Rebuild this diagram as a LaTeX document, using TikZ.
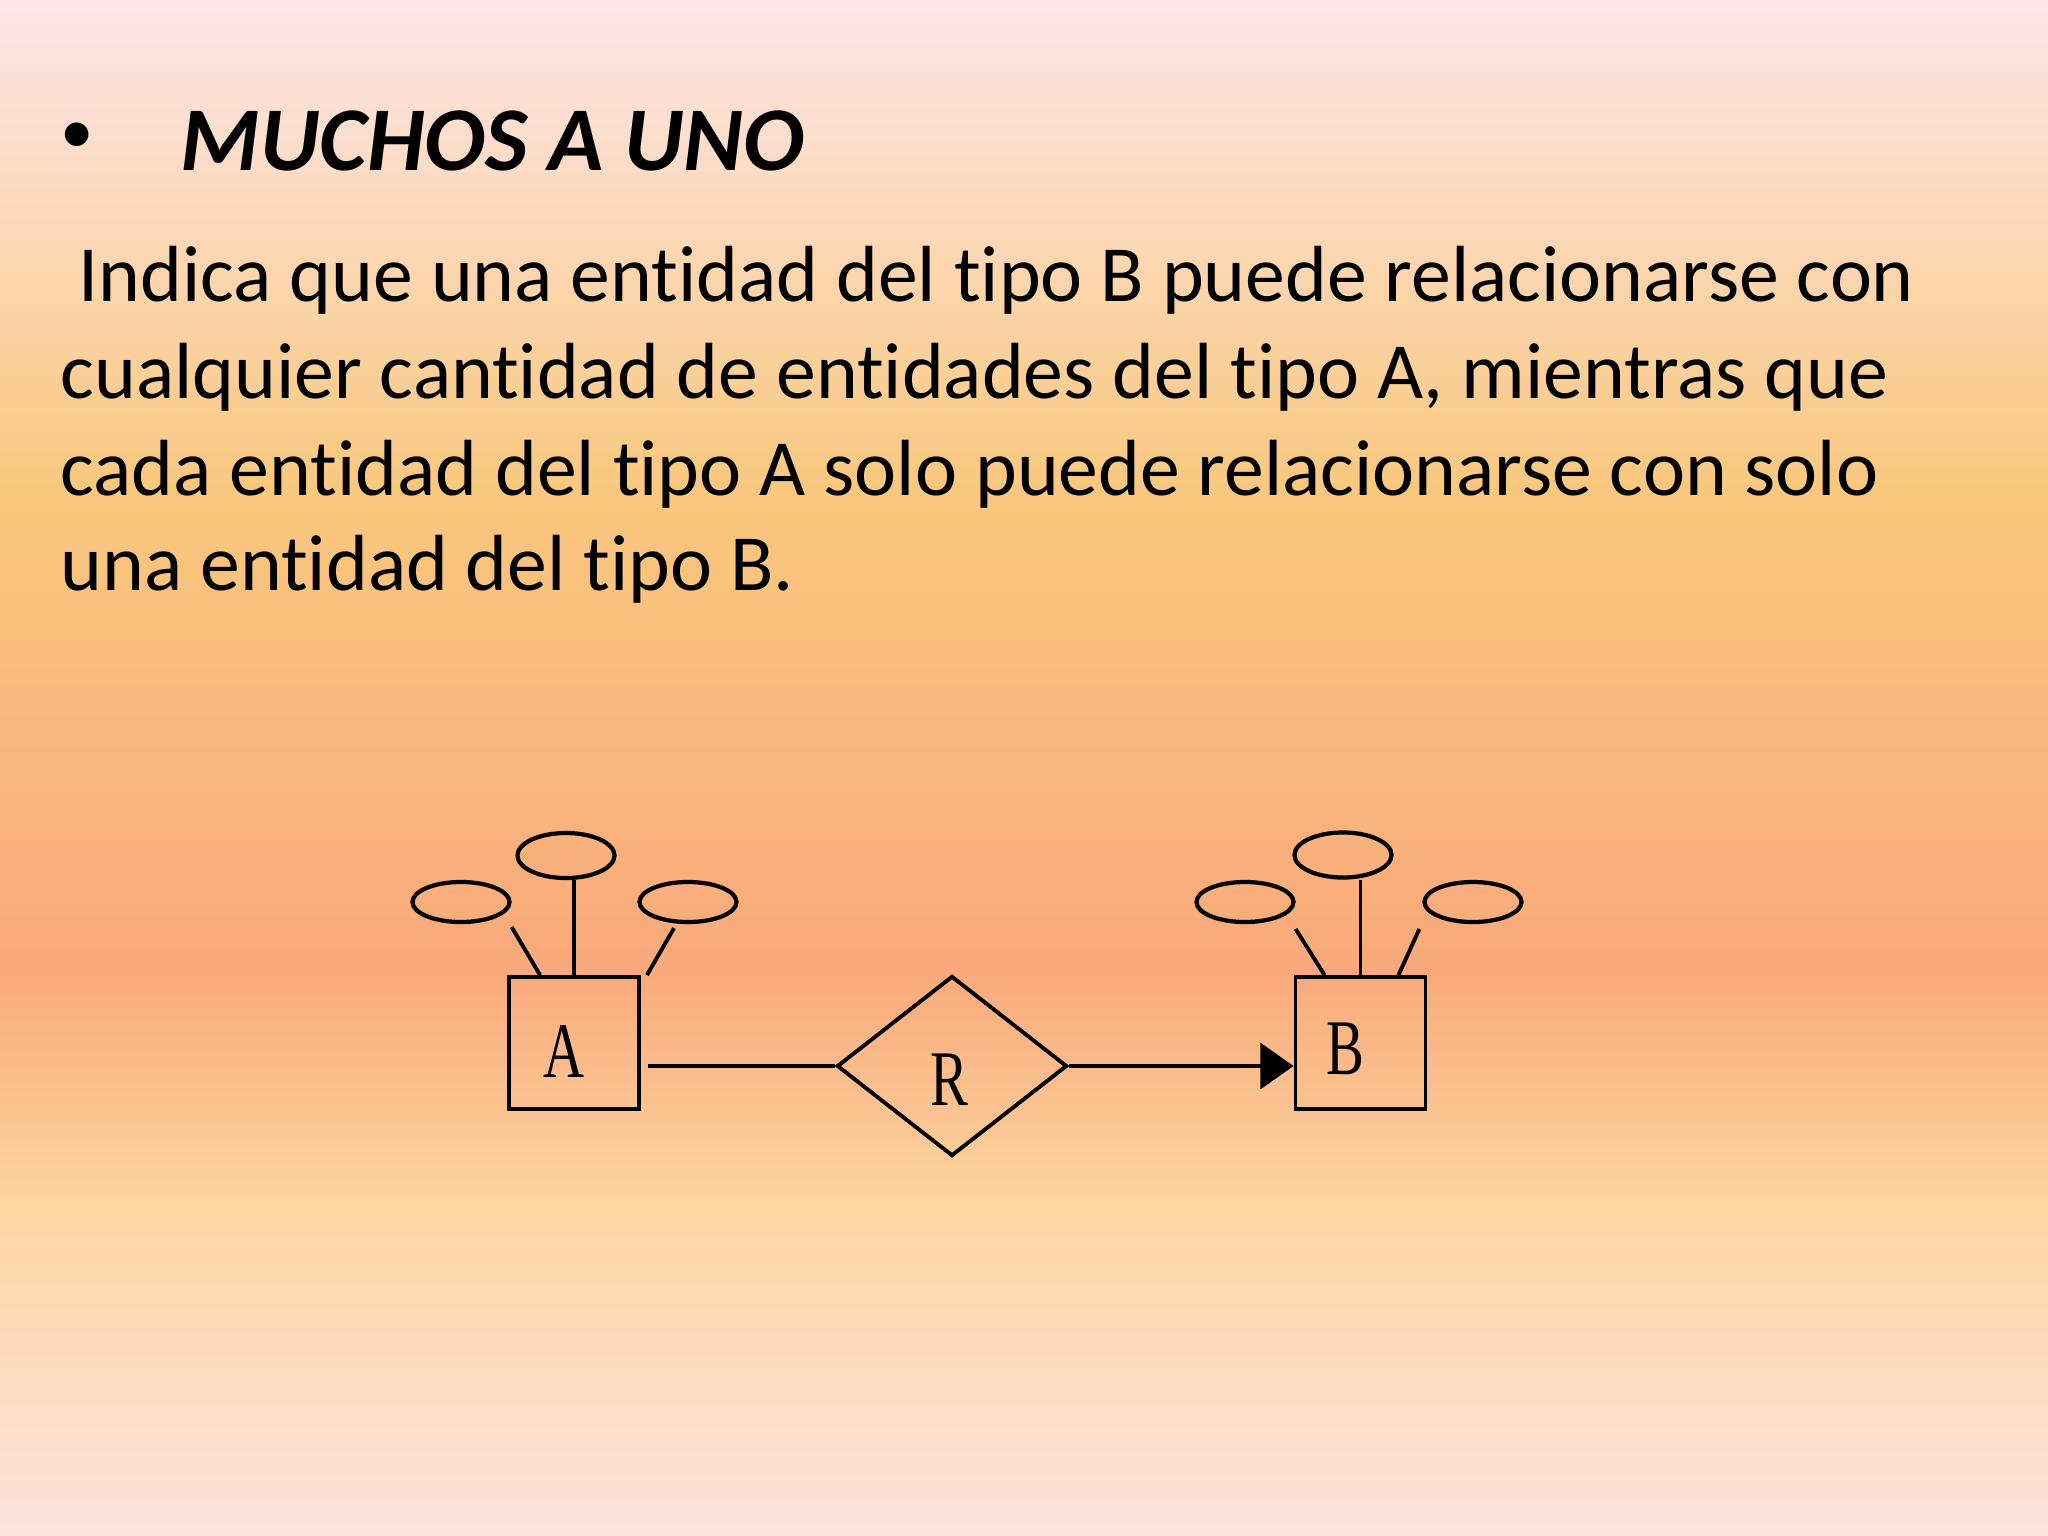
\documentclass[tikz,border=0pt]{standalone}
\usepackage{fontspec}
\setmainfont[Ligatures=NoCommon]{Carlito}
\newfontfamily\erfont[FakeStretch=0.72]{Liberation Serif}
\usepackage{tikz}
\usetikzlibrary{arrows.meta,shapes.geometric,calc}
\definecolor{bgtop}{HTML}{FDE6EA}
\definecolor{bggold}{HTML}{F9C87E}
\definecolor{bgsalmon}{HTML}{F9A97B}
\definecolor{bgcream}{HTML}{FCD5A0}
\definecolor{bgbottom}{HTML}{FDE3DF}
\tikzset{
  entity/.style={draw, line width=1.1pt, minimum width=1.3cm, minimum height=1.32cm, inner sep=0pt},
  attr/.style={draw, ellipse, line width=1.2pt, minimum width=0.97cm, minimum height=0.4cm, inner sep=0pt},
  attrtop/.style={attr, minimum height=0.45cm},
  relbox/.style={draw, diamond, line width=1.1pt, minimum width=2.3cm, minimum height=1.8cm, inner sep=0pt},
  letter/.style={font=\erfont\fontsize{22.4}{24}\selectfont, inner sep=0pt},
  link/.style={line width=1.1pt},
  bodyline/.style={anchor=base west, inner sep=0pt, font=\fontsize{22.65}{27.4}\selectfont}
}
\begin{document}
\begin{tikzpicture}[x=0.01cm, y=-0.01cm]
\useasboundingbox (0,0) rectangle (2048,1536);
\shade[top color=bgtop, bottom color=bggold] (0,0) rectangle (2048,491);
\shade[top color=bggold, bottom color=bgsalmon] (0,490) rectangle (2048,971);
\shade[top color=bgsalmon, bottom color=bgcream] (0,970) rectangle (2048,1201);
\shade[top color=bgcream, bottom color=bgbottom] (0,1200) rectangle (2048,1536);

\node[inner sep=0pt, font=\fontsize{19}{20}\selectfont] (dot) at (77,138) {\textbullet};
\node[anchor=base west, inner sep=0pt, font=\fontsize{25.9}{30}\selectfont\bfseries\itshape] (title) at (180,170) {MUCHOS A UNO};
\node[bodyline] (line1) at (60,301) {\ Indica que una entidad del tipo B puede relacionarse con};
\node[bodyline] (line2) at (60,398) {cualquier cantidad de entidades del tipo A, mientras que};
\node[bodyline] (line3) at (60,495) {cada entidad del tipo A solo puede relacionarse con solo};
\node[bodyline] (line4) at (60,590) {una entidad del tipo B.};

\node[entity, label={[letter, xshift=-0.1cm, yshift=-0.08cm]center:A}] (entA) at (574,1043) {};
\node[entity, label={[letter, xshift=-0.15cm, yshift=-0.06cm]center:B}] (entB) at (1360.5,1043) {};
\node[relbox, label={[letter, xshift=-0.03cm, yshift=-0.14cm]center:R}] (rel) at (952,1066) {};

\node[attr] (attA1) at (461,902) {};
\node[attrtop] (attA2) at (566,855.5) {};
\node[attr] (attA3) at (688,902) {};
\node[attr] (attB1) at (1245,902) {};
\node[attrtop] (attB2) at (1343,855) {};
\node[attr] (attB3) at (1473,902) {};

\draw[link] ($(attA1.east)+(0,25)$) -- ($(entA.north west)+(33,0)$);
\draw[link] (attA2.south -| entA.north) -- (entA.north);
\draw[link] ($(attA3.south)+(-14,4)$) -- ($(entA.north east)+(6,0)$);
\draw[link] ($(attB1.east)+(0,27)$) -- ($(entB.north west)+(31,0)$);
\draw[link] (attB2.south -| entB.north) -- (entB.north);
\draw[link] ($(attB3.west)+(-3,27)$) -- ($(entB.north east)+(-29,0)$);

\draw[link, shorten <=2pt] (entA.east |- rel.west) -- (rel.west);
\draw[link, -{Triangle[length=9.4pt, width=13pt]}] (rel.east) -- (rel.east -| entB.west);
\end{tikzpicture}
\end{document}
